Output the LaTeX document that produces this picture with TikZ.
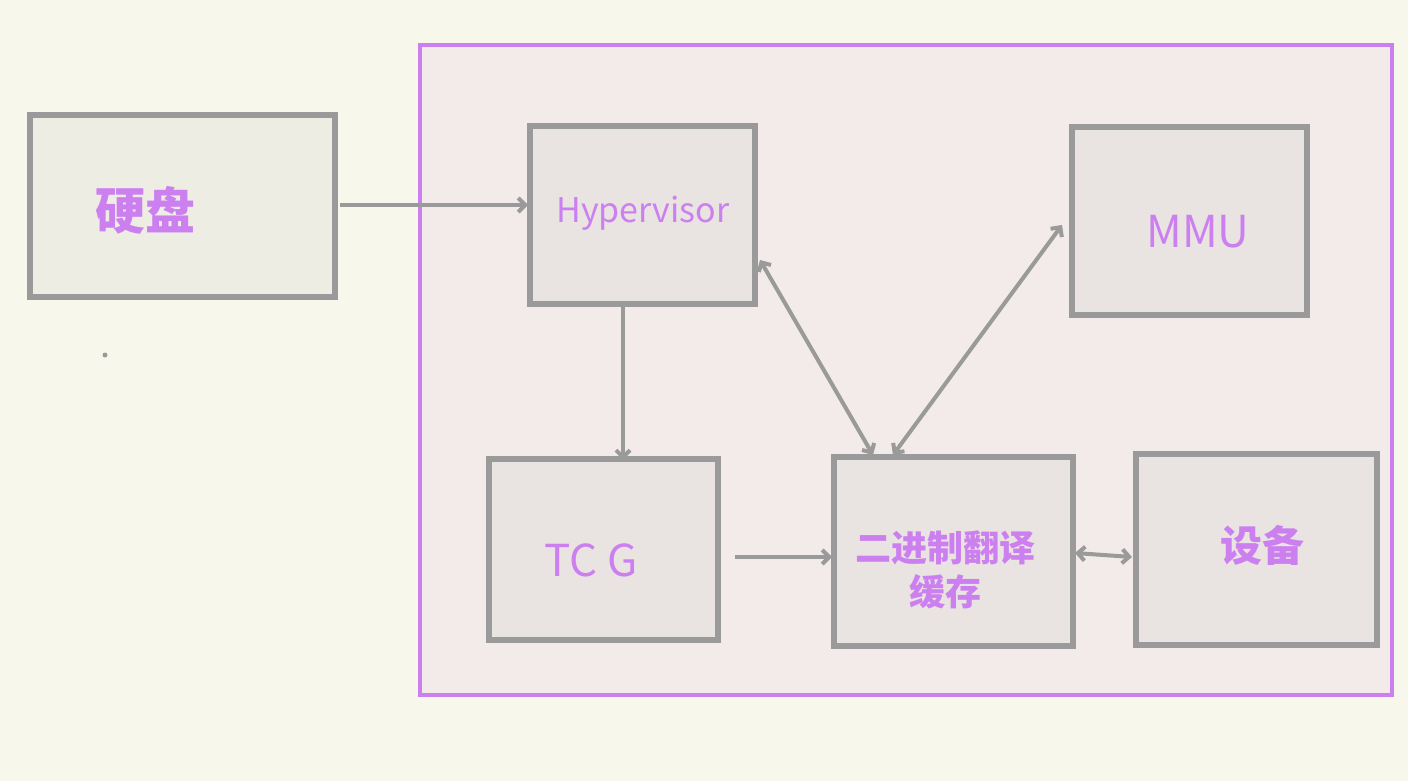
\documentclass[tikz,border=0pt]{standalone}
\usepackage{fontspec}
\newfontfamily\cjk{Noto Sans CJK SC}
\usetikzlibrary{arrows.meta}
\definecolor{bg}{HTML}{F7F7EC}
\definecolor{pur}{HTML}{CC80F0}
\definecolor{gr}{HTML}{9A9A9A}
\definecolor{inner}{HTML}{F2EBEA}
\definecolor{boxf}{HTML}{E9E3E2}
\definecolor{diskf}{HTML}{EDEDE3}
\tikzset{
  gbox/.style={draw=gr,line width=6pt,fill=boxf},
  lbl/.style={text=pur,font=\cjk},
  conn/.style={draw=gr,line width=4pt,-{Straight Barb[length=7pt,width=14pt]}},
  bconn/.style={draw=gr,line width=4pt,{Straight Barb[length=7pt,width=14pt]}-{Straight Barb[length=7pt,width=14pt]}}
}
\begin{document}
\begin{tikzpicture}[x=1pt,y=-1pt]
\useasboundingbox (0,0) rectangle (1408,781);
\fill[bg] (0,0) rectangle (1408,781);
\draw[pur,line width=4.5pt,fill=inner] (420,45) rectangle (1392,695);
\draw[gbox,fill=diskf] (30,115) rectangle (335,297);
\draw[gbox] (530,126) rectangle (755,304);
\draw[gbox] (1072,127) rectangle (1307,315);
\draw[gbox] (489,459) rectangle (718,640);
\draw[gbox] (834,457) rectangle (1073,646);
\draw[gbox] (1136,454) rectangle (1377,645);
\node[lbl,font=\cjk\bfseries\fontsize{50}{54}\selectfont] (disk) at (145,210) {硬盘};
\node[lbl,font=\cjk\fontsize{34}{38}\selectfont] (hyp) at (643,213) {Hypervisor};
\node[lbl,font=\cjk\fontsize{44}{48}\selectfont] (mmu) at (1198,232) {MMU};
\node[lbl,font=\cjk\fontsize{44}{48}\selectfont] (tcg) at (591,560) {TC G};
\node[lbl,font=\cjk\bfseries\fontsize{36}{44}\selectfont,align=center] (cache) at (945,570) {二进制翻译\\缓存};
\node[lbl,font=\cjk\bfseries\fontsize{42}{44}\selectfont] (dev) at (1262,545) {设备};
\fill[gr] (105,355) circle (2.5pt);
\coordinate (a1) at (340,205); \coordinate (a2) at (528,205);
\coordinate (b1) at (623,307); \coordinate (b2) at (623,460);
\coordinate (c1) at (760,260); \coordinate (c2) at (873,455);
\coordinate (d1) at (1062,225); \coordinate (d2) at (893,455);
\coordinate (e1) at (735,557); \coordinate (e2) at (832,557);
\coordinate (f1) at (1075,553); \coordinate (f2) at (1132,557);
\draw[conn] (a1) -- (a2);
\draw[conn] (b1) -- (b2);
\draw[bconn] (c1) -- (c2);
\draw[bconn] (d1) -- (d2);
\draw[conn] (e1) -- (e2);
\draw[bconn] (f1) -- (f2);
\end{tikzpicture}
\end{document}
